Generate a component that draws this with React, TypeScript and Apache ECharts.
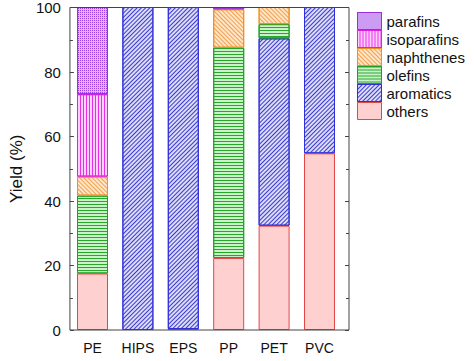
import React, { useEffect, useRef } from "react";
import * as echarts from "echarts";

const categories = ["PE", "HIPS", "EPS", "PP", "PET", "PVC"];
const others = [17.5, 0, 0.3, 22.3, 32.3, 54.7];
const aromatics = [0, 100, 99.7, 0, 58.0, 45.3];
const olefins = [24.1, 0, 0, 65.1, 4.4, 0];
const naphthenes = [5.9, 0, 0, 11.9, 5.3, 0];
const isoparafins = [25.5, 0, 0, 0, 0, 0];
const parafins = [27.0, 0, 0, 0.7, 0, 0];
const yTicks = [0, 20, 40, 60, 80, 100];

const FONT = "'Liberation Sans', Arial, sans-serif";

type Spec = {
  name: string;
  data: number[];
  fill: string;
  border: string;
  decal?: any;
};

const specs: Spec[] = [
  { name: "others", data: others, fill: "#ffd0d0", border: "#e04848" },
  {
    name: "aromatics",
    data: aromatics,
    fill: "#dcdcf8",
    border: "#3030d8",
    decal: { symbol: "rect", color: "#3a3ad0", dashArrayX: [1, 0], dashArrayY: [0.6, 1.2], rotation: -Math.PI / 4 },
  },
  {
    name: "olefins",
    data: olefins,
    fill: "#ccf2cc",
    border: "#20a020",
    decal: { symbol: "rect", color: "#28a828", dashArrayX: [1, 0], dashArrayY: [0.6, 1.1], rotation: 0 },
  },
  {
    name: "naphthenes",
    data: naphthenes,
    fill: "#ffe6c8",
    border: "#f09020",
    decal: { symbol: "rect", color: "#f0a050", dashArrayX: [1, 0], dashArrayY: [0.6, 1.3], rotation: Math.PI / 4 },
  },
  {
    name: "isoparafins",
    data: isoparafins,
    fill: "#ffd0ff",
    border: "#e020e0",
    decal: { symbol: "rect", color: "#e830e8", dashArrayX: [1, 0], dashArrayY: [0.6, 1.2], rotation: Math.PI / 2 },
  },
  {
    name: "parafins",
    data: parafins,
    fill: "#dcb8f8",
    border: "#9a30d8",
    decal: { symbol: "rect", color: "#9a44e6", dashArrayX: [1, 1], dashArrayY: [1, 1], rotation: 0 },
  },
];

export default function App() {
  const ref = useRef<HTMLDivElement>(null);
  useEffect(() => {
    if (!ref.current) return;
    const chart = echarts.init(ref.current, undefined, { renderer: "svg" });
    const top = 7;
    const height = 323;
    const tickStyle = { show: true, inside: true, length: 4, lineStyle: { color: "#444" } };
    const minorStyle = { show: true, splitNumber: 2, length: 3, lineStyle: { color: "#444" } };
    chart.setOption({
      animation: false,
      backgroundColor: "#fff",
      textStyle: { fontFamily: FONT },
      grid: [
        { left: 62, top, width: 287, height, show: true, borderColor: "#444", borderWidth: 1, backgroundColor: "transparent", z: 10 },
        { left: 69.8, top, width: 272.4, height },
      ],
      legend: {
        orient: "vertical",
        left: 357,
        top: 12,
        padding: 0,
        icon: "rect",
        itemWidth: 24,
        itemHeight: 17,
        itemGap: 0,
        itemStyle: { borderWidth: 1 },
        data: ["parafins", "isoparafins", "naphthenes", "olefins", "aromatics", "others"],
        textStyle: { fontFamily: FONT, fontSize: 15, color: "#111" },
      },
      xAxis: [
        { type: "value", gridIndex: 0, show: false, min: 0, max: 1 },
        {
          type: "category",
          gridIndex: 1,
          data: categories,
          axisLine: { show: false },
          axisTick: { show: false },
          axisLabel: { fontFamily: FONT, fontSize: 14, color: "#111", margin: 11 },
        },
      ],
      yAxis: [
        {
          type: "value",
          gridIndex: 0,
          min: 0,
          max: 100,
          interval: 20,
          position: "left",
          name: "Yield (%)",
          nameLocation: "middle",
          nameGap: 39,
          nameTextStyle: { fontFamily: FONT, fontSize: 17, color: "#111" },
          axisLine: { show: false },
          axisTick: tickStyle,
          minorTick: minorStyle,
          splitLine: { show: false },
          axisLabel: { fontFamily: FONT, fontSize: 15, color: "#111", margin: 9, customValues: yTicks },
        },
        {
          type: "value",
          gridIndex: 0,
          min: 0,
          max: 100,
          interval: 20,
          position: "right",
          axisLine: { show: false },
          axisTick: tickStyle,
          minorTick: minorStyle,
          splitLine: { show: false },
          axisLabel: { show: false },
        },
        { type: "value", gridIndex: 1, min: 0, max: 100, show: false },
      ],
      series: specs.map((s) => ({
        name: s.name,
        type: "bar",
        stack: "total",
        xAxisIndex: 1,
        yAxisIndex: 2,
        barWidth: 31,
        data: s.data.map((v) => (v > 0 ? v : "-")),
        itemStyle: {
          color: s.fill,
          borderColor: s.border,
          borderWidth: 1,
          decal: s.decal,
        },
      })),
    });
    return () => chart.dispose();
  }, []);
  return <div ref={ref} style={{ width: 474, height: 361, position: "absolute", left: 0, top: 0 }} />;
}
